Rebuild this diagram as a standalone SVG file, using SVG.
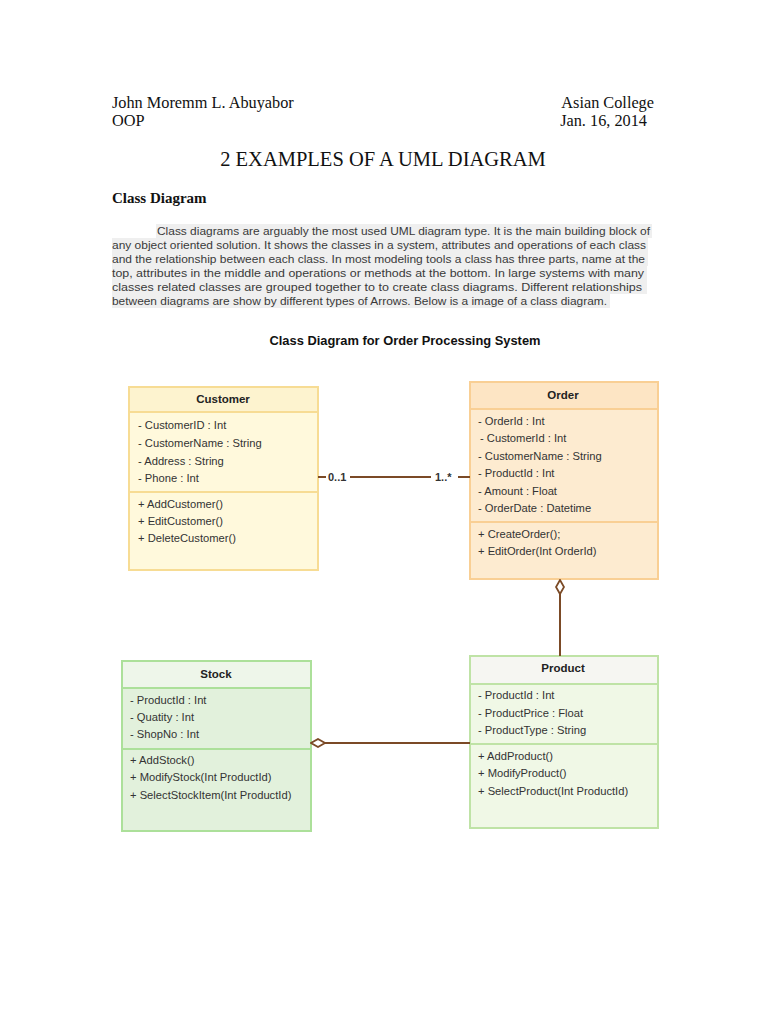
<svg xmlns="http://www.w3.org/2000/svg" width="768" height="1024" viewBox="0 0 768 1024">
<defs>
<style>
.serif{font-family:"Liberation Serif","Times New Roman",serif;fill:#111}
.para{font-family:"Liberation Sans",Arial,sans-serif;font-size:11.6px;fill:#3a3a3a}
.hl{fill:#efefef}
.cap{font-family:"Liberation Sans",Arial,sans-serif;font-size:12.5px;font-weight:bold;fill:#111}
.t{font-family:"Liberation Sans",Arial,sans-serif;font-size:11.2px;fill:#333}
.h{font-family:"Liberation Sans",Arial,sans-serif;font-size:11.5px;font-weight:bold;fill:#222}
.lbl{font-family:"Liberation Sans",Arial,sans-serif;font-size:11px;font-weight:bold;fill:#333}
.con{stroke:#7b4a26;stroke-width:2;fill:none}
</style>
<marker id="dia" viewBox="0 0 16 10" refX="15" refY="5" markerWidth="16" markerHeight="10" markerUnits="userSpaceOnUse" orient="auto">
<path d="M1,5 L8,1 L15,5 L8,9 Z" fill="#fff" stroke="#7b4a26" stroke-width="1.8"/>
</marker>
</defs>
<rect width="768" height="1024" fill="#fff"/>

<g id="header">
<text class="serif" x="112" y="108" font-size="16.3">John Moremm L. Abuyabor</text>
<text class="serif" x="112" y="126" font-size="16.3">OOP</text>
<text class="serif" x="654" y="108" font-size="16.3" text-anchor="end">Asian College</text>
<text class="serif" x="647" y="126" font-size="16.3" text-anchor="end">Jan. 16, 2014</text>
<text class="serif" x="383" y="166" font-size="20.5" text-anchor="middle">2 EXAMPLES OF A UML DIAGRAM</text>
<text class="serif" x="112" y="203" font-size="15" font-weight="bold">Class Diagram</text>
</g>

<g id="paragraph">
<rect class="hl" x="156" y="224" width="496" height="14"/>
<rect class="hl" x="112" y="238" width="536" height="14"/>
<rect class="hl" x="112" y="252" width="536" height="14"/>
<rect class="hl" x="112" y="266" width="535" height="14"/>
<rect class="hl" x="112" y="280" width="535" height="14"/>
<rect class="hl" x="112" y="294" width="498" height="14"/>
<text class="para" x="157" y="235" textLength="493" lengthAdjust="spacingAndGlyphs">Class diagrams are arguably the most used UML diagram type. It is the main building block of</text>
<text class="para" x="112" y="249" textLength="534" lengthAdjust="spacingAndGlyphs">any object oriented solution. It shows the classes in a system, attributes and operations of each class</text>
<text class="para" x="112" y="263" textLength="533" lengthAdjust="spacingAndGlyphs">and the relationship between each class. In most modeling tools a class has three parts, name at the</text>
<text class="para" x="112" y="277" textLength="532" lengthAdjust="spacingAndGlyphs">top, attributes in the middle and operations or methods at the bottom. In large systems with many</text>
<text class="para" x="112" y="291" textLength="530" lengthAdjust="spacingAndGlyphs">classes related classes are grouped together to to create class diagrams. Different relationships</text>
<text class="para" x="112" y="305" textLength="495" lengthAdjust="spacingAndGlyphs">between diagrams are show by different types of Arrows. Below is a image of a class diagram.</text>
</g>

<text class="cap" x="405" y="345" text-anchor="middle" textLength="271" lengthAdjust="spacingAndGlyphs">Class Diagram for Order Processing System</text>

<g id="customer">
<rect x="129" y="387" width="189" height="183" fill="#fff9dc" stroke="#f7dc94" stroke-width="2"/>
<rect x="130" y="388" width="187" height="24" fill="#fdf3cf"/>
<line x1="129" y1="412" x2="318" y2="412" stroke="#f7dc94" stroke-width="2"/>
<line x1="129" y1="492" x2="318" y2="492" stroke="#f7dc94" stroke-width="2"/>
<text class="h" x="223" y="403" text-anchor="middle">Customer</text>
<text class="t" x="138" y="429">- CustomerID : Int</text>
<text class="t" x="138" y="447">- CustomerName : String</text>
<text class="t" x="138" y="465">- Address : String</text>
<text class="t" x="138" y="482">- Phone : Int</text>
<text class="t" x="138" y="508">+ AddCustomer()</text>
<text class="t" x="138" y="525">+ EditCustomer()</text>
<text class="t" x="138" y="542">+ DeleteCustomer()</text>
</g>

<g id="order">
<rect x="470" y="382" width="188" height="197" fill="#fdebd0" stroke="#f9cf94" stroke-width="2"/>
<rect x="471" y="383" width="186" height="26" fill="#fde5c4"/>
<line x1="470" y1="409" x2="658" y2="409" stroke="#f9cf94" stroke-width="2"/>
<line x1="470" y1="522" x2="658" y2="522" stroke="#f9cf94" stroke-width="2"/>
<text class="h" x="563" y="399" text-anchor="middle">Order</text>
<text class="t" x="478" y="425">- OrderId : Int</text>
<text class="t" x="480" y="442">- CustomerId : Int</text>
<text class="t" x="478" y="460">- CustomerName : String</text>
<text class="t" x="478" y="477">- ProductId : Int</text>
<text class="t" x="478" y="495">- Amount : Float</text>
<text class="t" x="478" y="512">- OrderDate : Datetime</text>
<text class="t" x="478" y="538">+ CreateOrder();</text>
<text class="t" x="478" y="555">+ EditOrder(Int OrderId)</text>
</g>

<g id="product">
<rect x="470" y="656" width="188" height="172" fill="#f0f8e6" stroke="#bfe3a6" stroke-width="2"/>
<rect x="471" y="657" width="186" height="27" fill="#f6f6f2"/>
<line x1="470" y1="684" x2="658" y2="684" stroke="#bfe3a6" stroke-width="2"/>
<line x1="470" y1="744" x2="658" y2="744" stroke="#bfe3a6" stroke-width="2"/>
<text class="h" x="563" y="672" text-anchor="middle">Product</text>
<text class="t" x="478" y="699">- ProductId : Int</text>
<text class="t" x="478" y="717">- ProductPrice : Float</text>
<text class="t" x="478" y="734">- ProductType : String</text>
<text class="t" x="478" y="760">+ AddProduct()</text>
<text class="t" x="478" y="777">+ ModifyProduct()</text>
<text class="t" x="478" y="795">+ SelectProduct(Int ProductId)</text>
</g>

<g id="stock">
<rect x="122" y="661" width="189" height="170" fill="#e2f1dc" stroke="#ace09a" stroke-width="2"/>
<rect x="123" y="662" width="187" height="26" fill="#eef6ea"/>
<line x1="122" y1="688" x2="311" y2="688" stroke="#ace09a" stroke-width="2"/>
<line x1="122" y1="749" x2="311" y2="749" stroke="#ace09a" stroke-width="2"/>
<text class="h" x="216" y="678" text-anchor="middle">Stock</text>
<text class="t" x="130" y="704">- ProductId : Int</text>
<text class="t" x="130" y="721">- Quatity : Int</text>
<text class="t" x="130" y="738">- ShopNo : Int</text>
<text class="t" x="130" y="764">+ AddStock()</text>
<text class="t" x="130" y="781">+ ModifyStock(Int ProductId)</text>
<text class="t" x="130" y="799">+ SelectStockItem(Int ProductId)</text>
</g>

<g id="connectors">
<line class="con" x1="318" y1="477" x2="326" y2="477"/>
<line class="con" x1="350" y1="477" x2="431" y2="477"/>
<line class="con" x1="458" y1="477" x2="470" y2="477"/>
<text class="lbl" x="328" y="481">0..1</text>
<text class="lbl" x="435" y="481">1..*</text>
<line class="con" x1="560" y1="656" x2="560" y2="580" marker-end="url(#dia)"/>
<line class="con" x1="470" y1="743" x2="311" y2="743" marker-end="url(#dia)"/>
</g>
</svg>
